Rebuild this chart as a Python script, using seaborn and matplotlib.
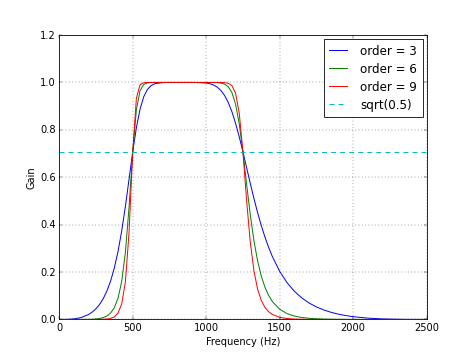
import numpy as np
import pandas as pd
import matplotlib
matplotlib.use("Agg")
import matplotlib.pyplot as plt
import seaborn as sns

# frequency response of the bandpass filter
freq = [0, 50, 100, 150, 200, 225, 250, 275, 300, 325, 350, 375, 400, 425, 450,
        475, 500, 525, 550, 575, 600, 625, 650, 700, 750, 800, 900, 950, 1000,
        1025, 1050, 1075, 1100, 1125, 1150, 1175, 1200, 1225, 1250, 1275, 1300,
        1325, 1350, 1375, 1400, 1425, 1450, 1500, 1550, 1600, 1650, 1700, 1750,
        1800, 1850, 1900, 1950, 2000, 2100, 2200, 2350, 2500]

gain_3 = [0.0, 0.0003, 0.0023, 0.0082, 0.0210, 0.0313, 0.0453, 0.0639, 0.0886,
          0.1209, 0.1631, 0.2176, 0.2871, 0.3736, 0.4766, 0.5915, 0.7071, 0.8094,
          0.8876, 0.9397, 0.9704, 0.9867, 0.9946, 0.9994, 1.0, 1.0, 1.0, 0.9996,
          0.9975, 0.9946, 0.9893, 0.9803, 0.9662, 0.9451, 0.9157, 0.8765, 0.8277,
          0.7704, 0.7071, 0.6407, 0.5743, 0.5103, 0.4506, 0.3962, 0.3473, 0.3040,
          0.2658, 0.2032, 0.1554, 0.1189, 0.0910, 0.0695, 0.0529, 0.0401, 0.0301,
          0.0223, 0.0163, 0.0117, 0.0056, 0.0022, 0.0003, 0.0]

gain_6 = [0.0, 0.0, 0.0, 0.0001, 0.0004, 0.0010, 0.0021, 0.0041, 0.0079, 0.0148,
          0.0273, 0.0497, 0.0895, 0.1601, 0.2820, 0.4738, 0.7071, 0.8848, 0.9656,
          0.9913, 0.9981, 0.9996, 1.0, 1.0, 1.0, 1.0, 1.0, 1.0, 1.0, 0.9999,
          0.9998, 0.9992, 0.9975, 0.9930, 0.9819, 0.9574, 0.9086, 0.8252, 0.7071,
          0.5713, 0.4416, 0.3322, 0.2469, 0.1831, 0.1356, 0.1013, 0.0759, 0.0430,
          0.0247, 0.0143, 0.0084, 0.0049, 0.0028, 0.0016, 0.0009, 0.0005, 0.0003,
          0.0001, 0.0, 0.0, 0.0, 0.0]

gain_9 = [0.0, 0.0, 0.0, 0.0, 0.0, 0.0, 0.0, 0.0002, 0.0007, 0.0018, 0.0045,
          0.0111, 0.0269, 0.0652, 0.1574, 0.3671, 0.7071, 0.9341, 0.9904, 0.9988,
          0.9999, 1.0, 1.0, 1.0, 1.0, 1.0, 1.0, 1.0, 1.0, 1.0, 1.0, 1.0, 0.9998,
          0.9992, 0.9964, 0.9866, 0.9549, 0.8700, 0.7071, 0.5023, 0.3264, 0.2048,
          0.1276, 0.0801, 0.0508, 0.0325, 0.0210, 0.0089, 0.0039, 0.0017, 0.0008,
          0.0003, 0.0001, 0.0, 0.0, 0.0, 0.0, 0.0, 0.0, 0.0, 0.0, 0.0]

orders = ["order = 3", "order = 6", "order = 9"]
ref_x = [0, 2500]
ref_y = [0.7071, 0.7071]

df = pd.concat([
    pd.DataFrame({"freq": freq, "gain": g, "order": o})
    for g, o in zip([gain_3, gain_6, gain_9], orders)
])

plt.style.use("classic")
plt.rcParams["lines.scale_dashes"] = False
fig, ax = plt.subplots(figsize=(8, 6))

sns.lineplot(data=df, x="freq", y="gain", hue="order", palette=["b", "g", "r"],
             sort=False, estimator=None, linewidth=1.2, ax=ax)
sns.lineplot(x=ref_x, y=ref_y, color="c", linestyle=(0, (6, 5)), linewidth=1.2,
             label="sqrt(0.5)", ax=ax)

ax.set_xlim(0, 2500)
ax.set_ylim(0, 1.2)
ax.set_xticks([0, 500, 1000, 1500, 2000, 2500])
ax.set_xlabel("Frequency (Hz)")
ax.set_ylabel("Gain")
ax.grid(True)

handles, labels = ax.get_legend_handles_labels()
ax.legend(handles, labels, loc="upper right", borderaxespad=0.3, numpoints=1,
          labelspacing=0.42, handlelength=1.5, handletextpad=1.1, borderpad=0.5)

fig.savefig("out.png", dpi=59.25, facecolor="white")
